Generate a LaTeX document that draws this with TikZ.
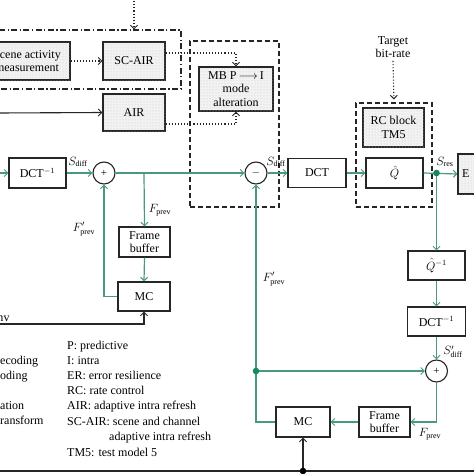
\documentclass[tikz,border=0pt]{standalone}
\usepackage{fontspec}
\setmainfont{Liberation Serif}
\setmathrm{Liberation Serif}
\usetikzlibrary{arrows.meta,patterns,calc}
\definecolor{grn}{RGB}{72,152,130}
\definecolor{grndot}{RGB}{25,135,100}
\begin{document}
\begin{tikzpicture}[x=1pt,y=-1pt,
  font=\fontsize{12}{13.5}\selectfont,
  >={Straight Barb[length=3.5pt,width=7pt,line width=1pt]},
  blk/.style={draw=black!85, line width=1.1pt, inner sep=0pt, align=center, fill=white},
  dotbox/.style={blk, fill=black!5, postaction={pattern=dots, pattern color=black!22}},
  sumc/.style={circle, draw=black!85, line width=1.1pt, minimum size=22pt, inner sep=0pt, fill=white, font=\fontsize{11}{11}\selectfont},
  gline/.style={draw=grn, line width=1.2pt},
  bline/.style={draw=black!85, line width=1.1pt},
  dline/.style={draw=black!85, line width=1.1pt, dotted},
  grpdash/.style={draw=black!85, line width=1.1pt, dash pattern=on 5pt off 3pt, inner sep=0pt},
  grpdd/.style={draw=black!85, line width=1.1pt, dash pattern=on 6pt off 2.5pt on 1.2pt off 2.5pt, inner sep=0pt},
  lbl/.style={inner sep=0pt}
]
\useasboundingbox (0,0) rectangle (474,474);
\clip (0,0) rectangle (474,474);
\fill[white] (0,0) rectangle (474,474);

% group frames
\node[grpdd, minimum width=192pt, minimum height=59pt] (scgroup) at (85,59.5) {};
\node[grpdash, minimum width=89pt, minimum height=166pt] (mbgroup) at (234.5,124) {};
\node[grpdash, minimum width=76pt, minimum height=104pt] (rcgroup) at (394,155) {};

% upper blocks
\node[dotbox, minimum width=86pt, minimum height=38pt] (scene) at (27,61) {Scene activity\\measurement};
\node[dotbox, minimum width=62pt, minimum height=38pt] (scair) at (134,61) {SC-AIR};
\node[dotbox, minimum width=62pt, minimum height=37pt] (air) at (134,112.5) {AIR};
\node[dotbox, minimum width=74pt, minimum height=44pt] (mb) at (236,89) {MB P\,$\longrightarrow$\,I\\mode\\alteration};
\node[dotbox, minimum width=61pt, minimum height=39pt] (rc) at (393.5,127.5) {RC block\\TM5};
\node[align=center, lbl] (target) at (393,47) {Target\\bit-rate};
\node[dotbox, minimum width=40pt, minimum height=40pt, text width=32pt, align=left] (rbox) at (478,174) {E};

% main path blocks
\node[blk, minimum width=57pt, minimum height=30pt] (dctinvA) at (37.5,173) {DCT$^{-1}$};
\node[sumc] (plusA) at (104,173) {+};
\node[sumc] (minus) at (256,173) {$-$};
\node[blk, minimum width=58pt, minimum height=29pt] (dct) at (317,173) {DCT};
\node[blk, minimum width=57pt, minimum height=30pt] (qhat) at (394.5,173) {$\hat{Q}$};

% left loop
\node[blk, minimum width=51pt, minimum height=30pt] (fbA) at (144.5,242) {Frame\\buffer};
\node[blk, minimum width=52pt, minimum height=29pt] (mcA) at (144,296.5) {MC};

% right loop
\node[blk, minimum width=57pt, minimum height=29pt] (qinv) at (436.5,265.5) {$\hat{Q}^{-1}$};
\node[blk, minimum width=58pt, minimum height=29pt] (dctinvB) at (436.5,321.5) {DCT$^{-1}$};
\node[sumc] (plusB) at (436.5,371) {+};
\node[blk, minimum width=54pt, minimum height=30pt] (mcB) at (303,422) {MC};
\node[blk, minimum width=51pt, minimum height=30pt] (fbB) at (384.5,422) {Frame\\buffer};

% coordinates
\coordinate (inA) at (0,173);
\coordinate (brA) at (144,173);
\coordinate (jres) at (436.5,173);
\coordinate (jB) at (256,371);
\coordinate (topin) at (134,-2);
\coordinate (airin) at (-2,113);
\coordinate (mvin) at (-2,324);
\coordinate (botL) at (-2,471);
\coordinate (botR) at (476,471);
\coordinate (jbot) at (303,471);

% green signal lines
\draw[gline,->] (inA) -- (dctinvA.west);
\draw[gline,->] (dctinvA.east) -- (plusA.west);
\draw[gline,->] (plusA.east) -- (minus.west);
\draw[gline,->] (brA) -- (fbA.north);
\draw[gline,->] (fbA.south) -- (mcA.north);
\draw[gline,->] (mcA.west) -| (plusA.south);
\draw[gline,->] (minus.east) -- (dct.west);
\draw[gline,->] (dct.east) -- (qhat.west);
\draw[gline,->] (qhat.east) -- (rbox.west);
\draw[gline,->] (jres) -- (qinv.north);
\draw[gline,->] (qinv.south) -- (dctinvB.north);
\draw[gline,->] (dctinvB.south) -- (plusB.north);
\draw[gline,->] (plusB.south) |- (fbB.east);
\draw[gline,->] (fbB.west) -- (mcB.east);
\draw[gline,->] (mcB.west) -| (minus.south);
\draw[gline,->] (jB) -- (plusB.west);
\fill[grndot] (jres) circle (3.3pt);
\fill[grndot] (jB) circle (3.3pt);

% black lines
\draw[bline,->] (airin) -- (air.west);
\draw[bline,->] (mvin) -| (mcA.south);
\draw[black!85, line width=1.5pt] (botL) -- (botR);
\draw[bline,->] (jbot) -- (mcB.south);
\fill[black] (jbot) circle (3.3pt);

% dotted control lines
\draw[dline,->] (topin) -- (topin |- scgroup.north);
\draw[dline,->] (scene.east) -- (scair.west);
\draw[dline,->] ([yshift=8pt]scair.east) -| (mb.north);
\draw[dline,->] ([yshift=-11.5pt]air.east) -| (mb.south);
\draw[dline,->,shorten >=3pt] ([yshift=-3pt]target.south) -- (rcgroup.north);

% signal labels
\node[lbl] (lsdA) at (78,162) {$S_{\mathrm{diff}}$};
\node[lbl] (lfpA) at (160,210) {$F_{\mathrm{prev}}$};
\node[lbl] (lfpA2) at (84,229) {$F'_{\mathrm{prev}}$};
\node[lbl, anchor=base west] (lmv) at (-6,321) {mv};
\node[lbl] (lsdB) at (276,162) {$S_{\mathrm{diff}}$};
\node[lbl] (lsres) at (445,162) {$S_{\mathrm{res}}$};
\node[lbl] (lfpB2) at (274,279) {$F'_{\mathrm{prev}}$};
\node[lbl] (lsdC) at (453,352) {$S'_{\mathrm{diff}}$};
\node[lbl] (lfpB) at (430,434) {$F_{\mathrm{prev}}$};

% legend
\begin{scope}[every node/.style={anchor=base west, inner sep=0pt}]
\node (lg1) at (67,349) {P: predictive};
\node (lg2) at (67,364) {I: intra};
\node (lg3) at (67,379) {ER: error resilience};
\node (lg4) at (67,394) {RC: rate control};
\node (lg5) at (67,409) {AIR: adaptive intra refresh};
\node (lg6) at (67,425) {SC-AIR: scene and channel};
\node (lg7) at (109,440) {adaptive intra refresh};
\node (lg8) at (67,456) {TM5: test model 5};
\node (ll1) at (0,364) {ecoding};
\node (ll2) at (0,379) {oding};
\node (ll3) at (0,409) {ation};
\node (ll4) at (0,424) {ransform};
\end{scope}
\end{tikzpicture}
\end{document}
